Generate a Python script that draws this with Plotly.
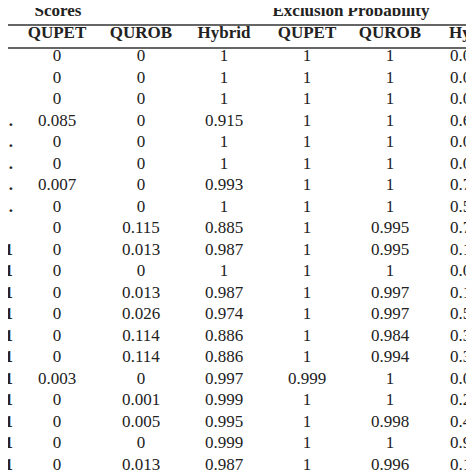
import plotly.graph_objects as go

# table contents
group_titles = ["Scores", "Exclusion Probability"]
col_titles = ["QUPET", "QUROB", "Hybrid", "QUPET", "QUROB", "Hybrid"]
score_qupet = ["0", "0", "0", "0.085", "0", "0", "0.007", "0", "0", "0",
               "0", "0", "0", "0", "0", "0.003", "0", "0", "0", "0"]
score_qurob = ["0", "0", "0", "0", "0", "0", "0", "0", "0.115", "0.013",
               "0", "0.013", "0.026", "0.114", "0.114", "0", "0.001", "0.005", "0", "0.013"]
score_hybrid = ["1", "1", "1", "0.915", "1", "1", "0.993", "1", "0.885", "0.987",
                "1", "0.987", "0.974", "0.886", "0.886", "0.997", "0.999", "0.995", "0.999", "0.987"]
excl_qupet = ["1"] * 15 + ["0.999", "1", "1", "1", "1"]
excl_qurob = ["1", "1", "1", "1", "1", "1", "1", "1", "0.995", "0.995",
              "1", "0.997", "0.997", "0.984", "0.994", "1", "1", "0.998", "1", "0.996"]
excl_hybrid = ["0.03", "0.00", "0.00", "0.66", "0.01", "0.01", "0.71", "0.58", "0.74", "0.14",
               "0.00", "0.15", "0.52", "0.32", "0.32", "0.00", "0.26", "0.48", "0.95", "0.14"]
left_stub = [""] * 3 + ["."] * 5 + [""] + ["1"] * 11

# layout constants (pixels)
col_x = [49, 133, 216, 299, 382]
hyb_x = 442
row0, row_h = 49, 21.5
rows = [row0 + i * row_h for i in range(len(score_qupet))]

FONT = "Liberation Serif"
SIZE = 17
tf = dict(family=FONT, size=SIZE, color="#222")
fig = go.Figure()
for x, vals in zip(col_x, [score_qupet, score_qurob, score_hybrid, excl_qupet, excl_qurob]):
    fig.add_trace(go.Scatter(x=[x] * len(vals), y=rows, text=vals, mode="text", textfont=tf))
fig.add_trace(go.Scatter(x=[hyb_x] * len(rows), y=rows, text=excl_hybrid, mode="text",
                         textposition="middle right", cliponaxis=False, textfont=tf))
fig.add_trace(go.Scatter(x=[5] * len(rows), y=rows, text=[f"<b>{s}</b>" for s in left_stub],
                         mode="text", textposition="middle left", cliponaxis=False, textfont=tf))
# headers
fig.add_trace(go.Scatter(x=col_x, y=[26] * 5, text=[f"<b>{t}</b>" for t in col_titles[:5]],
                         mode="text", textfont=tf))
fig.add_trace(go.Scatter(x=[hyb_x - 1], y=[26], text=[f"<b>{col_titles[5]}</b>"],
                         mode="text", textposition="middle right", cliponaxis=False, textfont=tf))
fig.add_trace(go.Scatter(x=[50, 343], y=[4, 4], text=[f"<b>{t}</b>" for t in group_titles],
                         mode="text", cliponaxis=False, textfont=tf))

for yy in (17, 40):
    fig.add_shape(type="line", x0=0, x1=474, y0=yy, y1=yy, line=dict(color="#333", width=1.6))

fig.update_xaxes(range=[0, 474], visible=False)
fig.update_yaxes(range=[474, 0], visible=False)
fig.update_layout(width=474, height=474, margin=dict(l=0, r=0, t=0, b=0),
                  showlegend=False, plot_bgcolor="white", paper_bgcolor="white")
fig.write_html("out.html")
